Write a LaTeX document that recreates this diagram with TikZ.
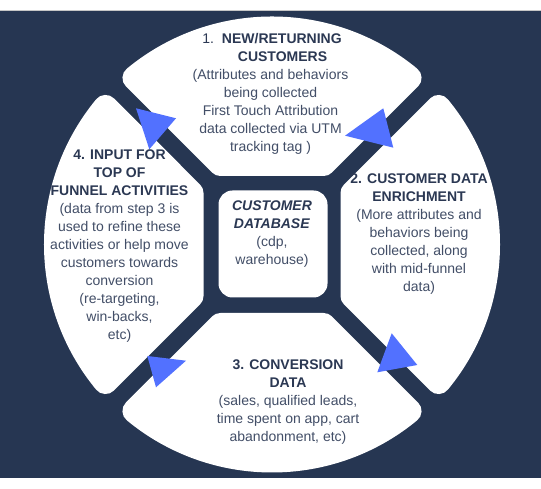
\documentclass[tikz,border=0pt]{standalone}
\usepackage{fontspec}
\setmainfont{Liberation Sans}
\definecolor{navy}{HTML}{263652}
\definecolor{ink}{HTML}{2B3853}
\definecolor{bodyink}{HTML}{424E67}
\definecolor{arrowblue}{HTML}{5271FF}
\newcommand{\hd}[1]{\textbf{\textcolor{ink}{#1}}}
\tikzset{
  segment/.style={fill=white, draw=white, line width=24pt, line join=round},
  steptext/.style={align=center, text=bodyink, inner sep=0pt,
    font=\fontsize{14}{18}\selectfont},
  hub/.style={fill=white, rounded corners=14pt,
    minimum width=109pt, minimum height=107pt},
  head/.style={fill=arrowblue}
}
\begin{document}
\begin{tikzpicture}[x=1pt, y=1pt]
  \fill[navy] (0,0) rectangle (541,468);
  \fill[gray!45] (0,467) rectangle (541,468);
  % four ring segments
  \begin{scope}[shift={(272,233.5)}]
    \foreach \a in {0,90,180,270}
      \draw[segment, rotate=\a] (-51.51,80.5) -- (-137.55,166.54)
        arc[start angle=129.56, end angle=50.44, radius=216] -- (51.51,80.5) -- cycle;
  \end{scope}
  % arrow heads in the gaps
  \fill[head] (136,369.7) -- (176,359.7) -- (149.3,328.7) -- cycle;
  \fill[head] (383.3,369.7) -- (345,342.3) -- (393.3,330.3) -- cycle;
  \fill[head] (391.7,144.7) -- (377.3,105.7) -- (417.3,113) -- cycle;
  \fill[head] (147.3,122) -- (186,117.3) -- (156,90.7) -- cycle;
  % hub and texts
  \node[hub] (cdb) at (273,234) {};
  \node[steptext] (cdbtext) at (272,244) {\hd{\textit{CUSTOMER}}\\\hd{\textit{DATABASE}}\\(cdp,\\warehouse)};
  \node[steptext] (newcust) at (270.5,384) {\hspace*{3pt}\textcolor{ink}{1.}\hspace{8pt}\hd{NEW/RETURNING}\\
    \hspace*{24pt}\hd{CUSTOMERS}\\(Attributes and behaviors\\being collected\\
    First Touch Attribution\\data collected via UTM\\tracking tag )};
  \node[steptext] (enrich) at (419,243.5) {\hd{2. CUSTOMER DATA}\\\hd{ENRICHMENT}\\
    (More attributes and\\behaviors being\\collected, along\\with mid-funnel\\data)};
  \node[steptext] (convert) at (288,76) {\hd{3. CONVERSION}\\\hd{DATA}\\
    (sales, qualified leads,\\time spent on app, cart\\abandonment, etc)};
  \node[steptext] (funnel) at (119.5,232) {\hd{4. INPUT FOR}\\\hd{TOP OF}\\\hd{FUNNEL ACTIVITIES}\\
    (data from step 3 is\\used to refine these\\activities or help move\\customers towards\\
    conversion\\(re-targeting,\\win-backs,\\etc)};
\end{tikzpicture}
\end{document}
